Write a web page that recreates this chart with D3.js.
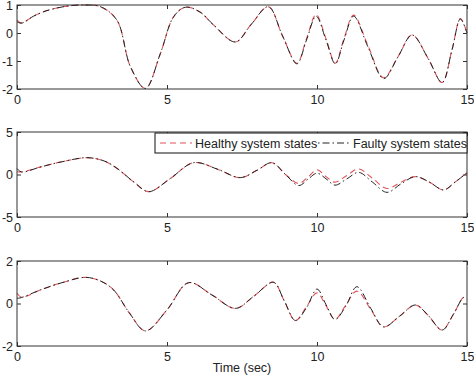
<!DOCTYPE html>
<html>
<head>
  <style>
    body { margin: 0; background: #fff; }
    svg { display: block; font-family: "Liberation Sans", Arial, sans-serif; }
    .tick text { font-size: 12.5px; fill: #222; }
  </style>
</head>
<body>
  <div id="chart"></div>
  <script src="https://d3js.org/d3.v7.min.js"></script>
  <script>
    // Time samples and state values (3 states)
    const t1 = [0, 0.15, 0.55, 1.0, 1.67, 2.2, 2.78, 3.33, 3.78, 4.28, 4.78, 5.22, 5.61, 6.1, 6.55, 7.28, 7.8, 8.38, 8.85, 9.33, 9.65, 9.97, 10.3, 10.61, 10.9, 11.22, 11.7, 12.22, 12.7, 13.17, 13.7, 14.17, 14.5, 14.78, 15.0];
    const healthy1 = [0.46, 0.36, 0.6, 0.8, 0.96, 1.0, 0.94, 0.46, -1.2, -1.98, -0.73, 0.58, 0.92, 0.75, 0.29, -0.32, 0.3, 0.94, -0.1, -1.08, -0.2, 0.66, -0.2, -1.08, -0.2, 0.64, -0.45, -1.6, -0.85, -0.07, -0.9, -1.77, -0.6, 0.52, 0.0];
    const faulty1 = [0.4, 0.35, 0.6, 0.8, 0.96, 1.0, 0.94, 0.46, -1.2, -1.98, -0.73, 0.58, 0.92, 0.75, 0.29, -0.32, 0.3, 0.94, -0.1, -1.1, -0.25, 0.6, -0.25, -1.1, -0.25, 0.6, -0.5, -1.63, -0.85, -0.07, -0.9, -1.77, -0.6, 0.5, 0.0];

    const t2 = [0, 0.15, 0.8, 1.5, 2.33, 2.9, 3.33, 3.9, 4.39, 5.1, 5.89, 6.7, 7.44, 8.0, 8.5, 8.95, 9.39, 9.7, 10.0, 10.3, 10.6, 11.0, 11.39, 11.85, 12.33, 12.8, 13.28, 13.75, 14.22, 14.6, 15.0];
    const healthy2 = [0.33, 0.3, 0.9, 1.5, 1.98, 1.6, 0.73, -0.9, -2.02, -0.5, 1.39, 0.6, -0.37, 0.5, 1.39, 0.0, -1.05, -0.3, 0.55, -0.25, -0.9, -0.1, 0.65, -0.45, -1.65, -0.9, -0.25, -0.9, -1.82, -0.9, 0.2];
    const faulty2 = [0.7, 0.3, 0.9, 1.5, 1.98, 1.6, 0.73, -0.9, -2.02, -0.5, 1.39, 0.6, -0.37, 0.5, 1.39, 0.0, -1.3, -0.55, 0.15, -0.5, -1.25, -0.5, 0.25, -0.9, -2.1, -1.1, -0.25, -0.9, -1.82, -0.9, 0.2];

    const t3 = [0, 0.15, 0.8, 1.5, 2.28, 2.8, 3.22, 3.75, 4.28, 5.0, 5.72, 6.5, 7.28, 7.9, 8.55, 8.9, 9.28, 9.65, 10.0, 10.3, 10.6, 10.95, 11.33, 11.8, 12.22, 12.75, 13.28, 13.7, 14.17, 14.55, 14.89, 15.0];
    const healthy3 = [0.48, 0.3, 0.65, 0.98, 1.23, 1.05, 0.64, -0.45, -1.29, -0.3, 0.98, 0.4, -0.23, 0.35, 1.0, 0.15, -0.8, -0.15, 0.5, -0.1, -0.75, -0.1, 0.58, -0.3, -1.1, -0.6, -0.07, -0.55, -1.25, -0.5, 0.29, 0.2];
    const faulty3 = [0.24, 0.28, 0.65, 0.98, 1.23, 1.05, 0.64, -0.45, -1.29, -0.3, 0.98, 0.4, -0.23, 0.35, 1.0, 0.15, -0.8, -0.2, 0.68, -0.05, -0.75, -0.15, 0.79, -0.25, -1.1, -0.6, -0.07, -0.55, -1.25, -0.5, 0.29, 0.2];

    const xTicks = [0, 5, 10, 15];
    const panels = [
      { t: t1, healthy: healthy1, faulty: faulty1, domain: [-2, 1], ticks: [-2, -1, 0, 1], top: 5, bottom: 89 },
      { t: t2, healthy: healthy2, faulty: faulty2, domain: [-5, 5], ticks: [-5, 0, 5], top: 132, bottom: 217 },
      { t: t3, healthy: healthy3, faulty: faulty3, domain: [-2, 2], ticks: [-2, 0, 2], top: 261, bottom: 346 }
    ];
    const legendLabels = ["Healthy system states", "Faulty system states"];

    const width = 474, height = 377;
    const svg = d3.select("#chart").append("svg")
      .attr("width", width)
      .attr("height", height);

    const x = d3.scaleLinear().domain([0, 15]).range([17, 467]);

    panels.forEach(p => {
      const y = d3.scaleLinear().domain(p.domain).range([p.bottom, p.top]);
      const g = svg.append("g");

      // lines
      const line = d3.line()
        .x(d => x(d[0]))
        .y(d => y(d[1]))
        .curve(d3.curveCatmullRom.alpha(0.5));

      g.append("path")
        .datum(p.t.map((t, i) => [t, p.healthy[i]]))
        .attr("d", line)
        .attr("fill", "none")
        .attr("stroke", "#e0555a")
        .attr("stroke-width", 1.1)
        .attr("stroke-dasharray", "6,4");

      g.append("path")
        .datum(p.t.map((t, i) => [t, p.faulty[i]]))
        .attr("d", line)
        .attr("fill", "none")
        .attr("stroke", "#222")
        .attr("stroke-width", 1)
        .attr("stroke-dasharray", "7,3,1.5,3");

      // axes, ticks pointing inward, mirrored on top/right
      g.append("g")
        .attr("transform", `translate(0,${p.bottom})`)
        .call(d3.axisBottom(x).tickValues(xTicks).tickSize(-4).tickPadding(6).tickFormat(d => String(d)));
      g.append("g")
        .attr("transform", `translate(0,${p.top})`)
        .call(d3.axisTop(x).tickValues(xTicks).tickSize(-4).tickFormat(""));
      g.append("g")
        .attr("transform", `translate(${x(0)},0)`)
        .call(d3.axisLeft(y).tickValues(p.ticks).tickSize(-4).tickPadding(4).tickFormat(d => String(d)));
      g.append("g")
        .attr("transform", `translate(${x(15)},0)`)
        .call(d3.axisRight(y).tickValues(p.ticks).tickSize(-4).tickFormat(""));

      g.selectAll(".domain").remove();
      g.selectAll(".tick line").attr("stroke", "#333");

      g.append("rect")
        .attr("x", x(0))
        .attr("y", p.top)
        .attr("width", x(15) - x(0))
        .attr("height", p.bottom - p.top)
        .attr("fill", "none")
        .attr("stroke", "#333")
        .attr("stroke-width", 1);
    });

    // legend in the middle panel
    const lg = svg.append("g");
    lg.append("rect")
      .attr("x", 155).attr("y", 133)
      .attr("width", 312).attr("height", 20)
      .attr("fill", "#fff")
      .attr("stroke", "#111");
    lg.append("line")
      .attr("x1", 160).attr("x2", 192).attr("y1", 143).attr("y2", 143)
      .attr("stroke", "#e0555a").attr("stroke-width", 1.1)
      .attr("stroke-dasharray", "6,4");
    lg.append("text")
      .attr("x", 195).attr("y", 147.5)
      .attr("font-size", 12.5).attr("fill", "#222")
      .text(legendLabels[0]);
    lg.append("line")
      .attr("x1", 318).attr("x2", 350).attr("y1", 143).attr("y2", 143)
      .attr("stroke", "#222").attr("stroke-width", 1)
      .attr("stroke-dasharray", "1.5,3,7,3");
    lg.append("text")
      .attr("x", 353).attr("y", 147.5)
      .attr("font-size", 12.5).attr("fill", "#222")
      .text(legendLabels[1]);

    svg.append("text")
      .attr("x", 242).attr("y", 372)
      .attr("text-anchor", "middle")
      .attr("font-size", 12.5).attr("fill", "#222")
      .text("Time (sec)");
  </script>
</body>
</html>
